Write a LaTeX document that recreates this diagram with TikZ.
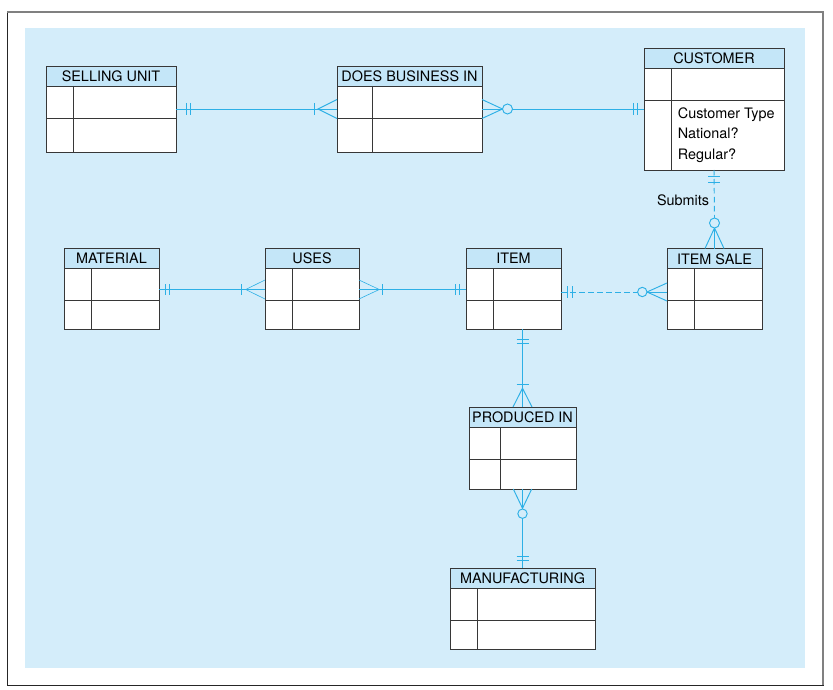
\documentclass[tikz,border=0pt]{standalone}
\usepackage{fontspec}
\setmainfont{TeX Gyre Heros}

\definecolor{erbg}{RGB}{212,237,250}
\definecolor{erhead}{RGB}{196,230,248}
\definecolor{erline}{RGB}{45,176,230}
\definecolor{erframe}{RGB}{55,55,55}

\tikzset{
  entbox/.style={rectangle, fill=white, inner sep=0pt, outer sep=0pt, anchor=north west},
  entline/.style={draw=erframe, line width=0.9pt},
  ertitle/.style={font=\fontsize{14.4}{16}\selectfont, inner sep=0pt},
  attr/.style={font=\fontsize{14.4}{16}\selectfont, inner sep=0pt},
  rel/.style={draw=erline, line width=0.95pt},
  relthin/.style={draw=erline, line width=0.6pt},
  reldash/.style={rel, dash pattern=on 5.5pt off 3.5pt},
  ring/.style={rel, fill=erbg},
}

% entity: name, x, y, width, height, key column, title
\newcommand\erbox[7]{%
  \node[entbox, minimum width=#4pt, minimum height=#5pt] (#1) at (#2,#3) {};
  \fill[erhead] (#1.north west) rectangle ([yshift=-20pt]#1.north east);
  \draw[entline] (#1.north west) rectangle (#1.south east);
  \draw[entline] ([yshift=-20pt]#1.north west) -- ([yshift=-20pt]#1.north east);
  \draw[entline] ([yshift=-52pt]#1.north west) -- ([yshift=-52pt]#1.north east);
  \draw[entline] ([xshift=#6pt,yshift=-20pt]#1.north west) -- ([xshift=#6pt]#1.south west);
  \node[ertitle] (#1-t) at ([yshift=-10.5pt]#1.north) {#7};
}

\begin{document}
\begin{tikzpicture}[x=1pt, y=-1pt]
\useasboundingbox (0,0) rectangle (833,690);
\fill[white] (0,0) rectangle (833,690);
\draw[black!85, line width=0.8pt] (7,12) rectangle (823,685);
\draw[gray, line width=1.6pt] (7,12) -- (823,12) -- (823,685);
\fill[erbg] (25,28) rectangle (805,668);

% entities
\erbox{su}{46}{66}{130}{86}{27}{SELLING UNIT}
\erbox{dbi}{337}{66}{145}{86}{35}{DOES BUSINESS IN}
\erbox{cust}{644}{48}{140}{122}{27}{CUSTOMER}
\erbox{mat}{64}{248}{95}{81}{27}{MATERIAL}
\erbox{uses}{265}{248}{94}{81}{27}{USES}
\erbox{item}{466}{248}{95}{81}{27}{ITEM}
\erbox{isale}{667}{248.5}{95}{81}{27}{ITEM SALE}
\erbox{prod}{469}{407}{107}{82}{31}{PRODUCED IN}
\erbox{manu}{450}{568}{145}{81}{27}{MANUFACTURING}

\foreach \t [count=\i] in {Customer Type, National?, Regular?}
  \node[attr, anchor=base west] (cust-a\i) at ([xshift=33.7pt, yshift={-70.5pt-20.5pt*(\i-1)}]cust.north west) {\t};

% selling unit -- does business in
\draw[rel] ([yshift=-43pt]su.north east) coordinate (su-e) -- ([yshift=-43pt]dbi.north west) coordinate (dbi-w);
\draw[rel] ([xshift=10pt]su-e) ++(0,-6) -- ++(0,12);
\draw[rel] ([xshift=14pt]su-e) ++(0,-6) -- ++(0,12);
\draw[rel] ([yshift=9.5pt]dbi-w) -- ([xshift=-19pt]dbi-w) -- ([yshift=-9.5pt]dbi-w);
\draw[rel] ([xshift=-23pt]dbi-w) ++(0,-6) -- ++(0,12);

% does business in -- customer
\draw[rel] ([yshift=-43pt]dbi.north east) coordinate (dbi-e) -- ([yshift=-61pt]cust.north west) coordinate (cust-w);
\draw[rel] ([yshift=9.5pt]dbi-e) -- ([xshift=20.5pt]dbi-e) -- ([yshift=-9.5pt]dbi-e);
\draw[ring] ([xshift=25.5pt]dbi-e) circle[radius=5pt];
\draw[rel] ([xshift=-10.7pt]cust-w) ++(0,-6) -- ++(0,12);
\draw[rel] ([xshift=-6.3pt]cust-w) ++(0,-6) -- ++(0,12);

% customer -- item sale
\draw[reldash] (cust.south) -- ([yshift=30.5pt]isale.north);
\draw[rel] ([yshift=-6.7pt]cust.south) ++(-6,0) -- ++(12,0);
\draw[rel] ([yshift=-12pt]cust.south) ++(-6,0) -- ++(12,0);
\draw[rel] ([xshift=-9.5pt]isale.north) -- ([yshift=20.5pt]isale.north) -- ([xshift=9.5pt]isale.north);
\draw[rel] ([yshift=20.5pt]isale.north) -- (isale.north);
\draw[ring] ([yshift=25.5pt]isale.north) circle[radius=5pt];
\node[attr, anchor=east] (submits) at ([xshift=-4.7pt, yshift=-30pt]cust.south) {Submits};

% item -- item sale
\draw[reldash] ([yshift=-44pt]item.north east) coordinate (item-e) -- ([xshift=-29.4pt, yshift=-43.5pt]isale.north west);
\coordinate (isale-w) at ([yshift=-43.5pt]isale.north west);
\draw[rel] ([xshift=6.3pt]item-e) ++(0,-6) -- ++(0,12);
\draw[rel] ([xshift=11pt]item-e) ++(0,-6) -- ++(0,12);
\draw[rel] ([yshift=9pt]isale-w) -- ([xshift=-20pt]isale-w) -- ([yshift=-9pt]isale-w);
\draw[rel] ([xshift=-20pt]isale-w) -- (isale-w);
\draw[ring] ([xshift=-24.7pt]isale-w) circle[radius=4.7pt];

% material -- uses
\draw[relthin] ([yshift=-41.5pt]mat.north east) coordinate (mat-e) -- ([yshift=-41.5pt]uses.north west) coordinate (uses-w);
\draw[relthin] ([xshift=6pt]mat-e) ++(0,-5.5) -- ++(0,11);
\draw[relthin] ([xshift=10pt]mat-e) ++(0,-5.5) -- ++(0,11);
\draw[relthin] ([yshift=9.5pt]uses-w) -- ([xshift=-19.3pt]uses-w) -- ([yshift=-9.5pt]uses-w);
\draw[relthin] ([xshift=-23.3pt]uses-w) ++(0,-5.5) -- ++(0,11);

% uses -- item
\draw[relthin] ([yshift=-41.5pt]uses.north east) coordinate (uses-e) -- ([yshift=-41.5pt]item.north west) coordinate (item-w);
\draw[relthin] ([yshift=9.5pt]uses-e) -- ([xshift=20.3pt]uses-e) -- ([yshift=-9.5pt]uses-e);
\draw[relthin] ([xshift=23.3pt]uses-e) ++(0,-5.5) -- ++(0,11);
\draw[relthin] ([xshift=-11pt]item-w) ++(0,-5.5) -- ++(0,11);
\draw[relthin] ([xshift=-7pt]item-w) ++(0,-5.5) -- ++(0,11);

% item -- produced in
\draw[rel] (prod.north |- item.south) coordinate (item-s) -- (prod.north);
\draw[rel] ([yshift=-10pt]item-s) ++(-6,0) -- ++(12,0);
\draw[rel] ([yshift=-14.3pt]item-s) ++(-6,0) -- ++(12,0);
\draw[rel] ([yshift=23pt]prod.north) ++(-6,0) -- ++(12,0);
\draw[rel] ([xshift=-9.5pt]prod.north) -- ([yshift=18.7pt]prod.north) -- ([xshift=9.5pt]prod.north);

% produced in -- manufacturing
\draw[rel] (prod.south) -- (manu.north);
\draw[rel] ([xshift=-9.2pt]prod.south) -- ([yshift=-19.3pt]prod.south) -- ([xshift=9.2pt]prod.south);
\draw[ring] ([yshift=-24.7pt]prod.south) circle[radius=4.7pt];
\draw[rel] ([yshift=11.7pt]manu.north) ++(-6,0) -- ++(12,0);
\draw[rel] ([yshift=8pt]manu.north) ++(-6,0) -- ++(12,0);
\end{tikzpicture}
\end{document}
